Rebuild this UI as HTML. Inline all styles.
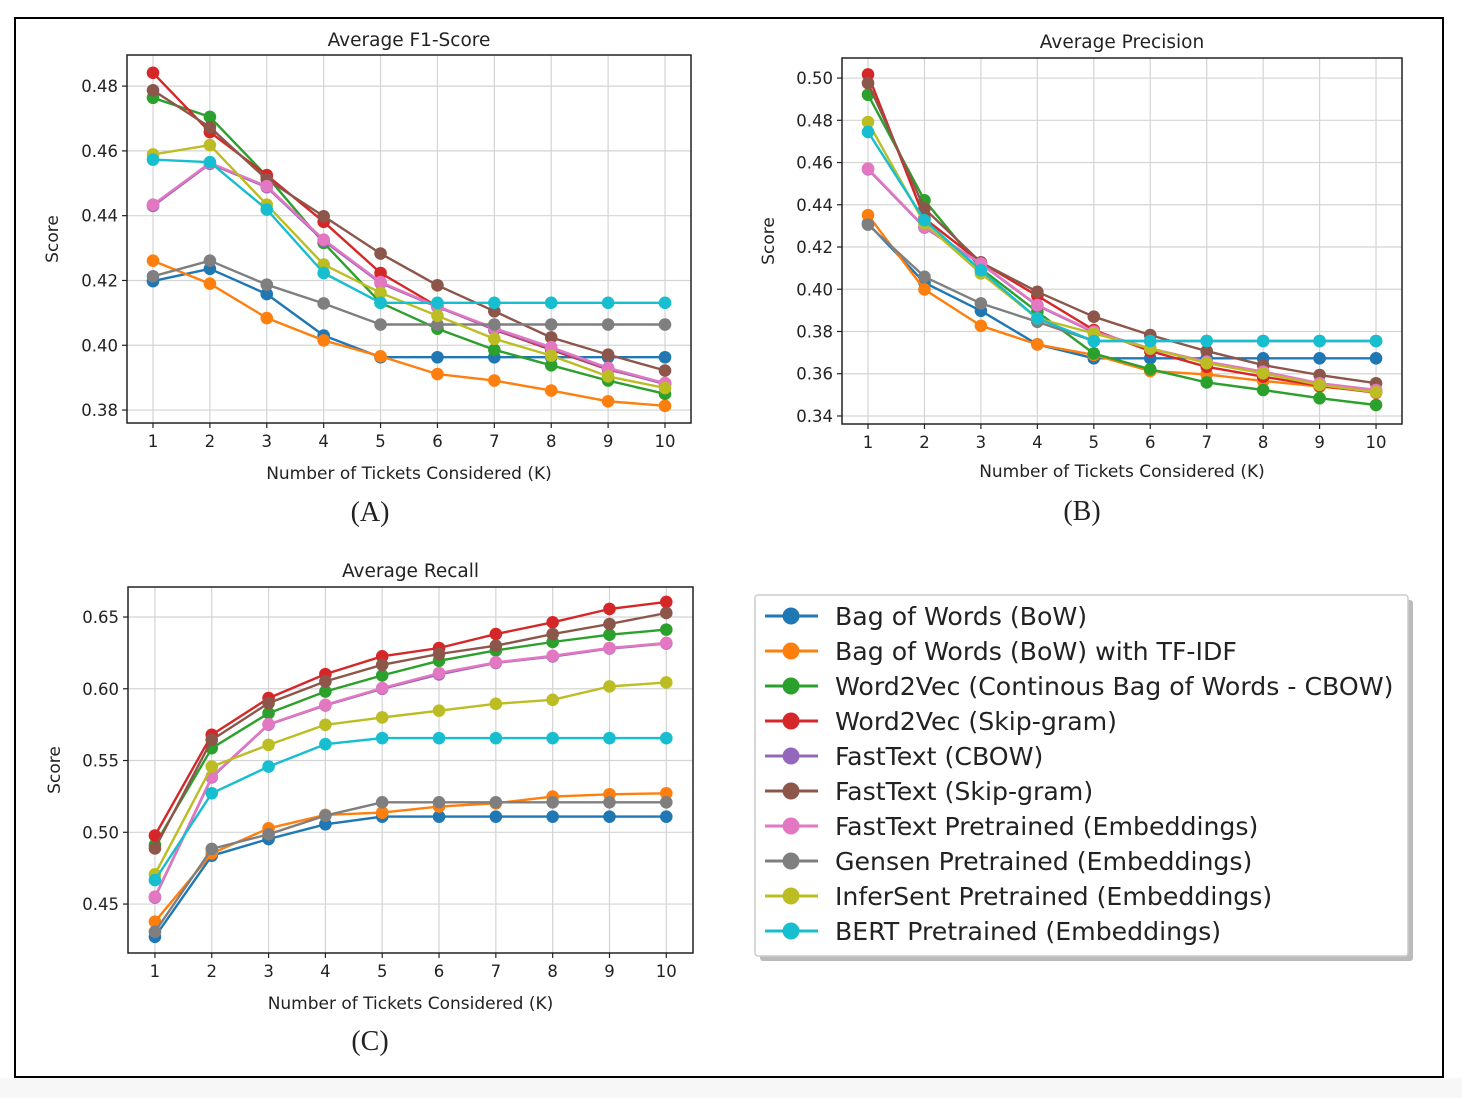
<!DOCTYPE html>
<html><head><meta charset="utf-8">
<style>
html,body{margin:0;padding:0;background:#f7f7f7;}
svg{display:block;}
text{font-family:"DejaVu Sans","Liberation Sans",sans-serif;fill:#222;}
</style></head>
<body>
<svg id="fig" width="1462" height="1098" xmlns="http://www.w3.org/2000/svg">
<rect x="0" y="0" width="1462" height="1078" fill="#fff"/>
<rect x="15" y="18" width="1428" height="1059" fill="#fff" stroke="#000" stroke-width="2"/>
<g id="charts"></g>
<text x="370" y="521" font-size="28" text-anchor="middle" style="font-family:'Liberation Serif',serif">(A)</text>
<text x="1082" y="520" font-size="28" text-anchor="middle" style="font-family:'Liberation Serif',serif">(B)</text>
<text x="370" y="1050" font-size="28" text-anchor="middle" style="font-family:'Liberation Serif',serif">(C)</text>
<g id="legend"></g>
</svg>
<script>
const ks = [1,2,3,4,5,6,7,8,9,10];
const seriesNames = ["Bag of Words (BoW)","Bag of Words (BoW) with TF-IDF","Word2Vec (Continous Bag of Words - CBOW)","Word2Vec (Skip-gram)","FastText (CBOW)","FastText (Skip-gram)","FastText Pretrained (Embeddings)","Gensen Pretrained (Embeddings)","InferSent Pretrained (Embeddings)","BERT Pretrained (Embeddings)"];
const colors = ["#1f77b4","#ff7f0e","#2ca02c","#d62728","#9467bd","#8c564b","#e377c2","#7f7f7f","#bcbd22","#17becf"];

const f1Bow = [0.4198,0.4236,0.4158,0.4030,0.3963,0.3963,0.3963,0.3963,0.3963,0.3963];
const f1Tfidf = [0.4261,0.4190,0.4084,0.4015,0.3966,0.3911,0.3891,0.3860,0.3827,0.3813];
const f1W2vCbow = [0.4764,0.4705,0.4522,0.4316,0.4131,0.4051,0.3986,0.3938,0.3891,0.3850];
const f1W2vSg = [0.4841,0.4658,0.4525,0.4381,0.4223,0.4120,0.4048,0.3986,0.3925,0.3883];
const f1FtCbow = [0.4430,0.4560,0.4488,0.4322,0.4192,0.4118,0.4050,0.3990,0.3927,0.3880];
const f1FtSg = [0.4787,0.4673,0.4512,0.4398,0.4283,0.4185,0.4105,0.4024,0.3971,0.3922];
const f1FtPre = [0.4434,0.4563,0.4491,0.4326,0.4195,0.4120,0.4053,0.3994,0.3930,0.3883];
const f1Gensen = [0.4213,0.4261,0.4187,0.4129,0.4064,0.4064,0.4064,0.4064,0.4064,0.4064];
const f1Infer = [0.4589,0.4618,0.4434,0.4249,0.4162,0.4091,0.4020,0.3968,0.3904,0.3868];
const f1Bert = [0.4573,0.4565,0.4419,0.4223,0.4131,0.4131,0.4131,0.4131,0.4131,0.4131];

const prBow = [0.4311,0.4031,0.3898,0.3739,0.3673,0.3673,0.3673,0.3673,0.3673,0.3673];
const prTfidf = [0.4351,0.3999,0.3827,0.3739,0.3689,0.3613,0.3597,0.3566,0.3539,0.3515];
const prW2vCbow = [0.4921,0.4421,0.4098,0.3893,0.3696,0.3621,0.3559,0.3523,0.3484,0.3452];
const prW2vSg = [0.5017,0.4335,0.4127,0.3969,0.3807,0.3707,0.3633,0.3586,0.3543,0.3510];
const prFtCbow = [0.4568,0.4292,0.4120,0.3922,0.3796,0.3718,0.3655,0.3608,0.3553,0.3520];
const prFtSg = [0.4976,0.4382,0.4127,0.3988,0.3870,0.3783,0.3707,0.3641,0.3594,0.3555];
const prFtPre = [0.4571,0.4295,0.4122,0.3925,0.3799,0.3720,0.3657,0.3610,0.3555,0.3523];
const prGensen = [0.4306,0.4059,0.3933,0.3846,0.3755,0.3755,0.3755,0.3755,0.3755,0.3755];
const prInfer = [0.4792,0.4311,0.4075,0.3862,0.3791,0.3720,0.3650,0.3602,0.3547,0.3512];
const prBert = [0.4745,0.4327,0.4090,0.3862,0.3755,0.3755,0.3755,0.3755,0.3755,0.3755];

const reBow = [0.4272,0.4837,0.4953,0.5056,0.5109,0.5109,0.5109,0.5109,0.5109,0.5109];
const reTfidf = [0.4377,0.4853,0.5028,0.5121,0.5137,0.5179,0.5202,0.5249,0.5265,0.5272];
const reW2vCbow = [0.4912,0.5586,0.5830,0.5981,0.6093,0.6195,0.6267,0.6326,0.6377,0.6412];
const reW2vSg = [0.4977,0.5679,0.5935,0.6102,0.6226,0.6284,0.6381,0.6463,0.6556,0.6605];
const reFtCbow = [0.4545,0.5383,0.5750,0.5884,0.6000,0.6100,0.6180,0.6225,0.6280,0.6315];
const reFtSg = [0.4888,0.5644,0.5900,0.6051,0.6167,0.6242,0.6300,0.6381,0.6451,0.6528];
const reFtPre = [0.4551,0.5388,0.5753,0.5888,0.6005,0.6109,0.6184,0.6230,0.6284,0.6319];
const reGensen = [0.4307,0.4884,0.4986,0.5116,0.5209,0.5209,0.5209,0.5209,0.5209,0.5209];
const reInfer = [0.4707,0.5458,0.5609,0.5749,0.5800,0.5847,0.5895,0.5923,0.6016,0.6044];
const reBert = [0.4667,0.5272,0.5458,0.5614,0.5656,0.5656,0.5656,0.5656,0.5656,0.5656];

const f1Ticks = [0.38,0.40,0.42,0.44,0.46,0.48];
const prTicks = [0.34,0.36,0.38,0.40,0.42,0.44,0.46,0.48,0.50];
const reTicks = [0.45,0.50,0.55,0.60,0.65];

const NS = "http://www.w3.org/2000/svg";
function mk(tag, attrs, parent){const e=document.createElementNS(NS,tag);for(const k in attrs)e.setAttribute(k,attrs[k]);parent.appendChild(e);return e;}

function drawChart(id, box, xDom, yDom, ticks, decimals, title, series, titleY, xlabY, scoreX){
  const root=document.getElementById('charts');
  const g=mk('g',{},root);
  
  
  const X=v=>box.l+(v-xDom[0])/(xDom[1]-xDom[0])*(box.r-box.l);
  const Y=v=>box.b-(v-yDom[0])/(yDom[1]-yDom[0])*(box.b-box.t);
  ks.forEach(k=>{const l=mk('line',{x1:X(k),x2:X(k),y1:box.t,y2:box.b,stroke:'#d4d4d4','stroke-width':1.2},g);
    
    mk('line',{x1:X(k),x2:X(k),y1:box.b,y2:box.b+5,stroke:'#222','stroke-width':1.2},g);
    const t=mk('text',{x:X(k),y:box.b+24,'font-size':16.5,'text-anchor':'middle'},g);t.textContent=k;
    });
  ticks.forEach(v=>{const l=mk('line',{x1:box.l,x2:box.r,y1:Y(v),y2:Y(v),stroke:'#d4d4d4','stroke-width':1.2},g);
    
    mk('line',{x1:box.l-5,x2:box.l,y1:Y(v),y2:Y(v),stroke:'#222','stroke-width':1.2},g);
    const t=mk('text',{x:box.l-9,y:Y(v)+6,'font-size':16.5,'text-anchor':'end'},g);t.textContent=v.toFixed(decimals);
    });
  series.forEach((s,i)=>{
    const pts=s.map((v,j)=>X(ks[j]).toFixed(1)+','+Y(v).toFixed(1)).join(' ');
    const pl=mk('polyline',{points:pts,fill:'none',stroke:colors[i],'stroke-width':2.4,'stroke-linejoin':'round'},g);
    
    
    s.forEach((v,j)=>{const c=mk('circle',{cx:X(ks[j]),cy:Y(v),r:6.3,fill:colors[i]},g);
      
      });
  });
  const fr=mk('rect',{x:box.l,y:box.t,width:box.r-box.l,height:box.b-box.t,fill:'none',stroke:'#222','stroke-width':1.5},g);
  
  const tt=mk('text',{x:(box.l+box.r)/2,y:titleY,'font-size':18.5,'text-anchor':'middle'},g);tt.textContent=title;
  
  const xl=mk('text',{x:(box.l+box.r)/2,y:xlabY,'font-size':17,'text-anchor':'middle'},g);xl.textContent='Number of Tickets Considered (K)';
  
  const cy=(box.t+box.b)/2;
  const yl=mk('text',{x:scoreX,y:cy,'font-size':17,'text-anchor':'middle',transform:`rotate(-90 ${scoreX} ${cy})`},g);yl.textContent='Score';
  
}

drawChart('f1',{l:127,r:691,t:55,b:423},[0.543,10.457],[0.376,0.4896],f1Ticks,2,'Average F1-Score',
  [f1Bow,f1Tfidf,f1W2vCbow,f1W2vSg,f1FtCbow,f1FtSg,f1FtPre,f1Gensen,f1Infer,f1Bert],46,479,58);
drawChart('precision',{l:842,r:1402,t:58,b:424},[0.539,10.46],[0.3362,0.5095],prTicks,2,'Average Precision',
  [prBow,prTfidf,prW2vCbow,prW2vSg,prFtCbow,prFtSg,prFtPre,prGensen,prInfer,prBert],48,477,774);
drawChart('recall',{l:128,r:693,t:587,b:953},[0.526,10.47],[0.4159,0.6709],reTicks,2,'Average Recall',
  [reBow,reTfidf,reW2vCbow,reW2vSg,reFtCbow,reFtSg,reFtPre,reGensen,reInfer,reBert],577,1009,60);

const lg=document.getElementById('legend');
mk('rect',{x:760,y:600,width:653,height:361,rx:3,fill:'#bbb'},lg);
const lb=mk('rect',{x:755,y:595,width:653,height:361,rx:3,fill:'#fff',stroke:'#ccc','stroke-width':1.5},lg);


seriesNames.forEach((n,i)=>{
  const y=616+i*35.0;
  const e=mk('g',{},lg);
  
  
  mk('line',{x1:765,x2:818,y1:y,y2:y,stroke:colors[i],'stroke-width':3},e);
  mk('circle',{cx:791,cy:y,r:8.5,fill:colors[i]},e);
  const t=mk('text',{x:835,y:y+9,'font-size':25.2},e);t.textContent=n;
});
</script>
</body></html>
